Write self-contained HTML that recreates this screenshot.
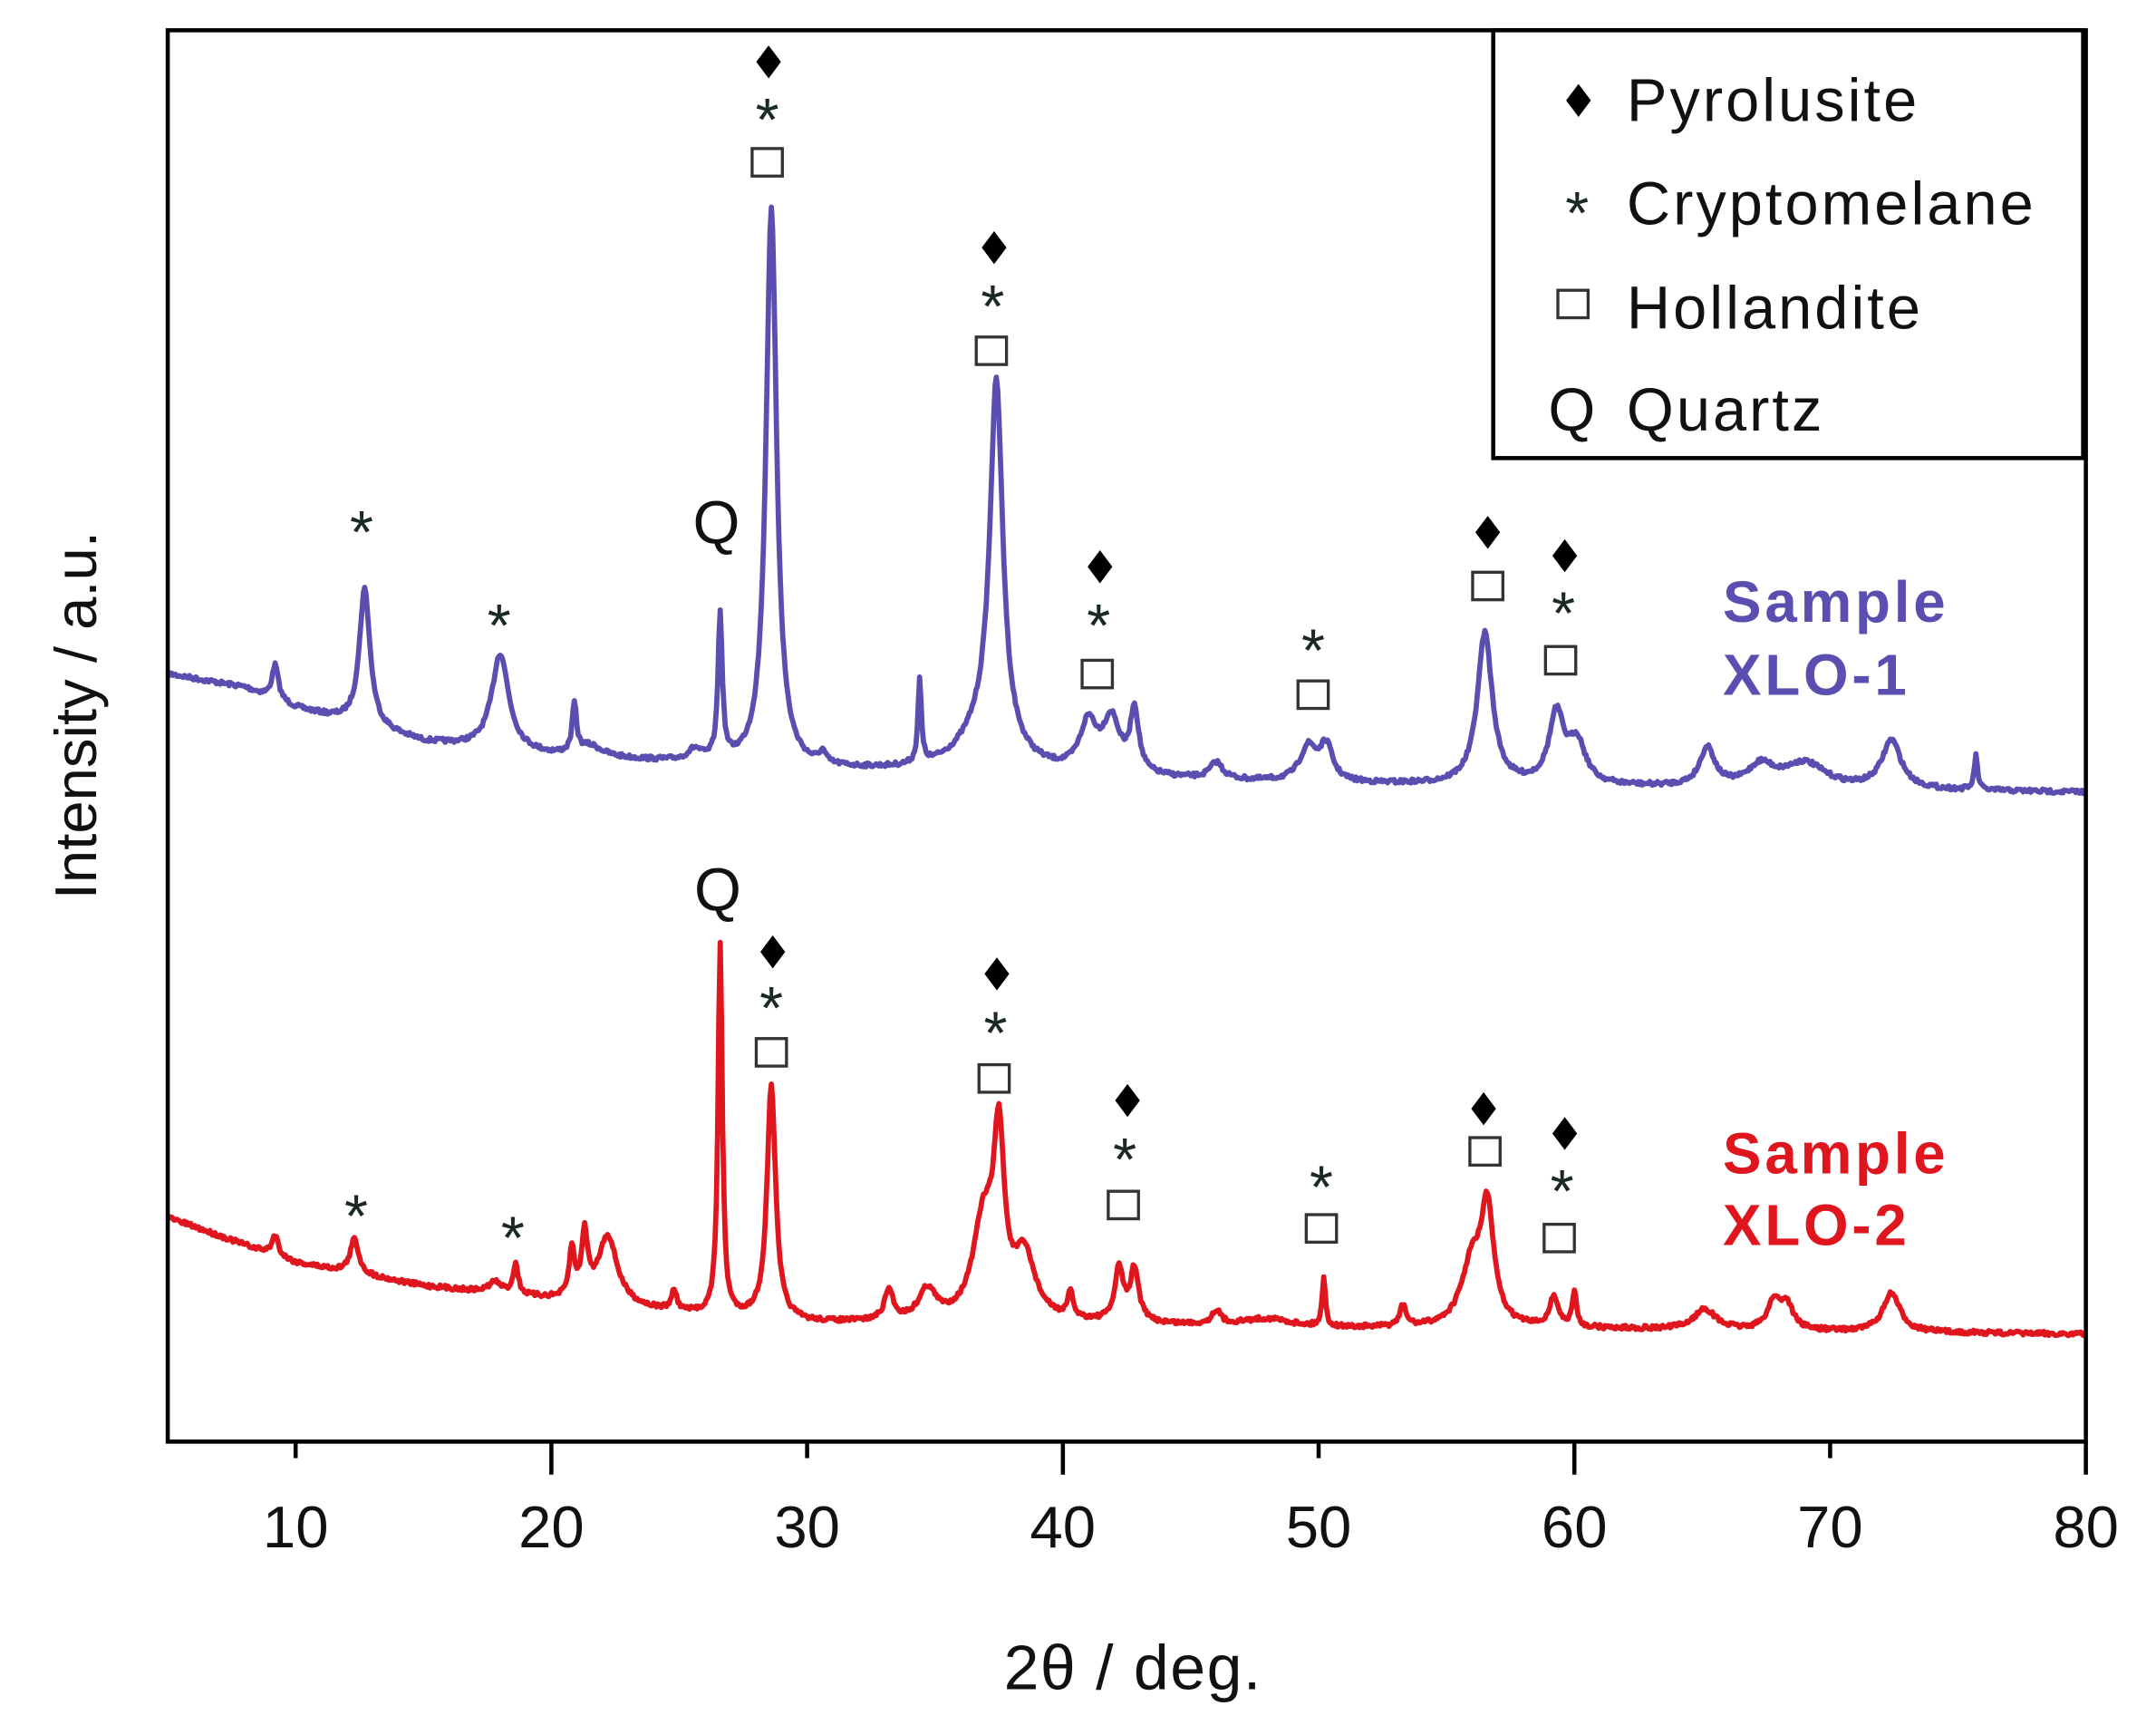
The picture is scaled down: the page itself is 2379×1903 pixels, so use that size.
<!DOCTYPE html>
<html><head><meta charset="utf-8"><style>
html,body{margin:0;padding:0;background:#fff;}
svg{display:block;}
text{font-family:"Liberation Sans",sans-serif;}
</style></head><body>
<svg id="s" width="2379" height="1903" viewBox="0 0 1568 1254" preserveAspectRatio="none" xmlns="http://www.w3.org/2000/svg">
<rect x="0" y="0" width="1568" height="1254" fill="#fff"/>
<g id="curves"></g>
<rect x="122" y="22" width="1395" height="1026" fill="none" stroke="#000" stroke-width="3"/>
<g id="ticks" stroke="#000" stroke-width="3"></g>
<g font-size="43" text-anchor="middle" fill="#111">
<text x="215" y="1125">10</text><text x="401" y="1125">20</text><text x="587" y="1125">30</text><text x="773" y="1125">40</text><text x="959" y="1125">50</text><text x="1145" y="1125">60</text><text x="1331" y="1125">70</text><text x="1517" y="1125">80</text>
</g>
<text x="824" y="1228" font-size="46" text-anchor="middle" fill="#111" letter-spacing="1">2θ / deg.</text>
<text transform="translate(70,520) rotate(-90)" font-size="43" text-anchor="middle" fill="#111">Intensity / a.u.</text>
<rect x="1086" y="22" width="429" height="311" fill="#fff" stroke="#000" stroke-width="3"/>
<g font-size="44" fill="#111" letter-spacing="2">
<text x="1183" y="88">Pyrolusite</text>
<text x="1183" y="163">Cryptomelane</text>
<text x="1183" y="239">Hollandite</text>
<text x="1183" y="313">Quartz</text>
<text x="1126" y="313">Q</text>
</g>
<g id="marks"></g>
<g font-size="42" font-weight="bold" fill="#5a4fb0" letter-spacing="2.5">
<text x="1253" y="452">Sample</text><text x="1253" y="505">XLO-1</text>
</g>
<g font-size="42" font-weight="bold" fill="#e0161e" letter-spacing="2.5">
<text x="1253" y="853">Sample</text><text x="1253" y="905">XLO-2</text>
</g>
<g font-size="44" fill="#111" text-anchor="middle">
<text x="521" y="395">Q</text><text x="522" y="662">Q</text>
</g>
</svg>
<script>
var NS="http://www.w3.org/2000/svg";
function X(v){return 122+(v-5)*18.6;}
function el(t,a,p){var e=document.createElementNS(NS,t);for(var k in a)e.setAttribute(k,a[k]);p.appendChild(e);return e;}
var tk=document.getElementById('ticks');
for(var v=10;v<=80;v+=10){el('line',{x1:X(v),y1:1048,x2:X(v),y2:(v%20==0)?1072:1060},tk);}
var seed=7;function rnd(){seed=(seed*16807)%2147483647;return seed/2147483647;}
function interp(pts,x){for(var i=0;i<pts.length-1;i++){if(x<=pts[i+1][0]){var t=(x-pts[i][0])/(pts[i+1][0]-pts[i][0]);return pts[i][1]+t*(pts[i+1][1]-pts[i][1]);}}return pts[pts.length-1][1];}
function curve(base,peaks,color){
 var d="";
 for(var x=5;x<=80;x+=0.05){
  var y=interp(base,x);
  for(var i=0;i<peaks.length;i++){var p=peaks[i];var u=(x-p[0])/p[2];y-=p[1]/(1+u*u);}
  y+=(rnd()-0.5)*3;
  d+=(d?"L":"M")+X(x).toFixed(1)+" "+y.toFixed(1);
 }
 el('path',{d:d,fill:"none",stroke:color,"stroke-width":3.8,"stroke-linejoin":"round"},document.getElementById('curves'));
}
var bb=[[5,490],[8,500],[10,515],[15,540],[20,550],[25,555],[30,560],[40,565],[50,570],[60,572],[70,574],[80,576]];
curve(bb,[[9.2,25,0.15],[12.7,100,0.25],[18,70,0.4],[20.9,35,0.1],[21.5,8,0.6],[25.6,8,0.3],[26.6,105,0.1],[28.6,405,0.25],[30.6,8,0.15],[34.4,60,0.08],[37.4,260,0.3],[37,30,1.2],[41,35,0.4],[41.9,38,0.4],[42.8,45,0.2],[46,12,0.3],[49.6,25,0.4],[50.3,25,0.3],[56.5,110,0.35],[59.3,50,0.35],[60.1,30,0.4],[65.2,28,0.35],[67.3,15,0.6],[69,18,1],[72.4,35,0.45],[75.7,25,0.08]],"#5a4fb0");
var rb=[[5,885],[8,905],[10,918],[15,935],[20,945],[25,955],[30,962],[40,962],[50,966],[60,966],[70,968],[80,970]];
curve(rb,[[9.2,15,0.15],[12.3,25,0.2],[17.8,8,0.3],[18.6,22,0.12],[20.8,35,0.12],[21.3,45,0.15],[22.2,50,0.45],[24.8,15,0.12],[26.6,268,0.1],[28.6,170,0.2],[33.2,22,0.2],[34.7,22,0.4],[36.9,70,0.5],[37.5,120,0.25],[38.5,45,0.5],[40.3,18,0.12],[42.2,38,0.2],[42.8,38,0.2],[46,10,0.2],[48,6,1.2],[50.2,35,0.08],[53.3,15,0.15],[56,45,0.5],[56.6,80,0.3],[59.2,22,0.2],[60,25,0.1],[65.1,15,0.5],[67.8,20,0.3],[68.3,18,0.3],[72.4,28,0.4]],"#e0161e");
var mk=document.getElementById('marks');
function dia(x,y){el('path',{d:"M"+x+" "+(y-12)+"L"+(x+9)+" "+y+"L"+x+" "+(y+12)+"L"+(x-9)+" "+y+"Z",fill:"#000"},mk);}
function star(x,y){var t=el('text',{x:x,y:y+20,"font-size":44,"text-anchor":"middle",fill:"#1a2a22"},mk);t.textContent="*";}
function sq(x,y){el('rect',{x:x-11,y:y-10,width:22,height:20,fill:"#fff",stroke:"#333","stroke-width":2.2},mk);}
dia(1148,73);star(1147,150);sq(1144,221);
dia(559,45);star(558,82);sq(558,118);
dia(723,180);star(722,218);sq(721,255);
dia(800,412);star(799,450);sq(798,490);
star(263,382);star(363,450);
star(955,468);sq(955,505);
dia(1082,387);sq(1082,426);
dia(1138,404);star(1137,441);sq(1135,480);
dia(562,692);star(561,728);sq(561,765);
dia(725,708);star(724,746);sq(723,784);
dia(820,800);star(818,838);sq(817,876);
star(259,879);star(373,895);
star(961,858);sq(961,893);
dia(1079,806);sq(1080,837);
dia(1138,824);star(1136,861);sq(1134,900);
</script>
</body></html>
